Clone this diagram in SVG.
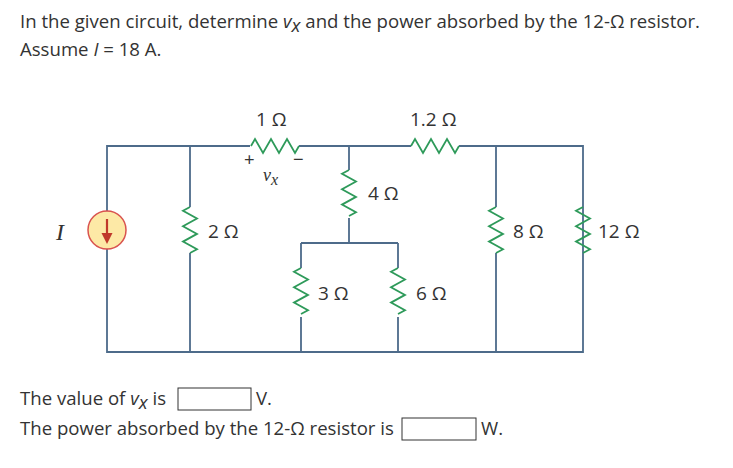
<svg xmlns="http://www.w3.org/2000/svg" width="733" height="468" viewBox="0 0 733 468">
<style>
.w{stroke:#4d6b8a;stroke-width:1.8;fill:none}
.r{stroke:#2e9a5a;stroke-width:1.8;fill:none;stroke-linejoin:miter}
.t{font-family:"Open Sans","Liberation Sans",sans-serif;fill:#333;font-size:18.6px}
.l{font-family:"Open Sans","Liberation Sans",sans-serif;fill:#333;font-size:19px}
.b{fill:#fff;stroke:#333;stroke-width:1}
</style>
<defs>
<path id="rv" d="M0,0 l-7,3.8 l14,7.7 l-14,7.7 l14,7.7 l-14,7.7 l14,7.7 l-7,3.7"/>
<path id="rh" d="M0,0 l4,-7 l8,14 l8,-14 l8,14 l8,-14 l8,14 l4,-7"/>
</defs>
<text class="t" x="20" y="28">In the given circuit, determine <tspan font-style="italic">v</tspan><tspan font-style="italic" dy="4">x</tspan><tspan dy="-4"> and the power absorbed by the 12-Ω resistor.</tspan></text>
<text class="t" x="20" y="56">Assume <tspan font-style="italic">I</tspan> = 18 A.</text>
<g id="wires">
<path class="w" d="M250,146 H107 V352 H583 V146 H459 M299,146 H411 M190,146 V207 M190,253 V352 M349,146 V170 M349,218 V243 M301,243 H398 M301,243 V268 M301,317 V352 M398,243 V268 M398,317 V352 M496,146 V207 M496,253 V352 M583,207 V146 M583,253 V352"/>
</g>
<g id="source"><circle cx="107" cy="230" r="19" fill="#fde9a6" stroke="#d9534f" stroke-width="1.5"/><path d="M107,219 V236" stroke="#c0392b" stroke-width="2.2"/><path d="M101.5,233 L107,244 L112.5,233 Z" fill="#c0392b"/>
<text x="56" y="240" font-family="Liberation Serif,serif" font-style="italic" font-size="24" fill="#333">I</text></g>
<g id="r2"><use href="#rv" x="190" y="207" class="r"/><text class="l" x="208" y="238">2 Ω</text></g>
<g id="r1"><use href="#rh" x="251" y="146" class="r"/><text class="l" x="256" y="126">1 Ω</text>
<text class="t" x="244" y="166" font-size="17">+</text><text class="t" x="293" y="166" font-size="17">−</text>
<text x="263" y="181" font-family="Liberation Serif,serif" font-style="italic" font-size="18" fill="#333">v<tspan dy="4" font-size="16">x</tspan></text></g>
<g id="r4"><use href="#rv" x="349" y="170" class="r"/><text class="l" x="368" y="200">4 Ω</text></g>
<g id="r3"><use href="#rv" x="301" y="268" class="r"/><text class="l" x="318" y="300">3 Ω</text></g>
<g id="r6"><use href="#rv" x="398" y="268" class="r"/><text class="l" x="416" y="300">6 Ω</text></g>
<g id="r12a"><use href="#rh" x="411" y="146" class="r"/><text class="l" x="410" y="126">1.2 Ω</text></g>
<g id="r8"><use href="#rv" x="496" y="207" class="r"/><text class="l" x="513" y="238">8 Ω</text></g>
<g id="r12"><use href="#rv" x="583" y="207" class="r"/><text class="l" x="598" y="238">12 Ω</text></g>
<text class="t" x="20" y="405">The value of <tspan font-style="italic">v</tspan><tspan font-style="italic" dy="4">x</tspan><tspan dy="-4"> is</tspan></text>
<rect class="b" x="178" y="388" width="73" height="22"/>
<text class="t" x="256" y="405">V.</text>
<text class="t" x="20" y="435">The power absorbed by the 12-Ω resistor is</text>
<rect class="b" x="402" y="418" width="74" height="22"/>
<text class="t" x="481" y="435">W.</text>
</svg>
